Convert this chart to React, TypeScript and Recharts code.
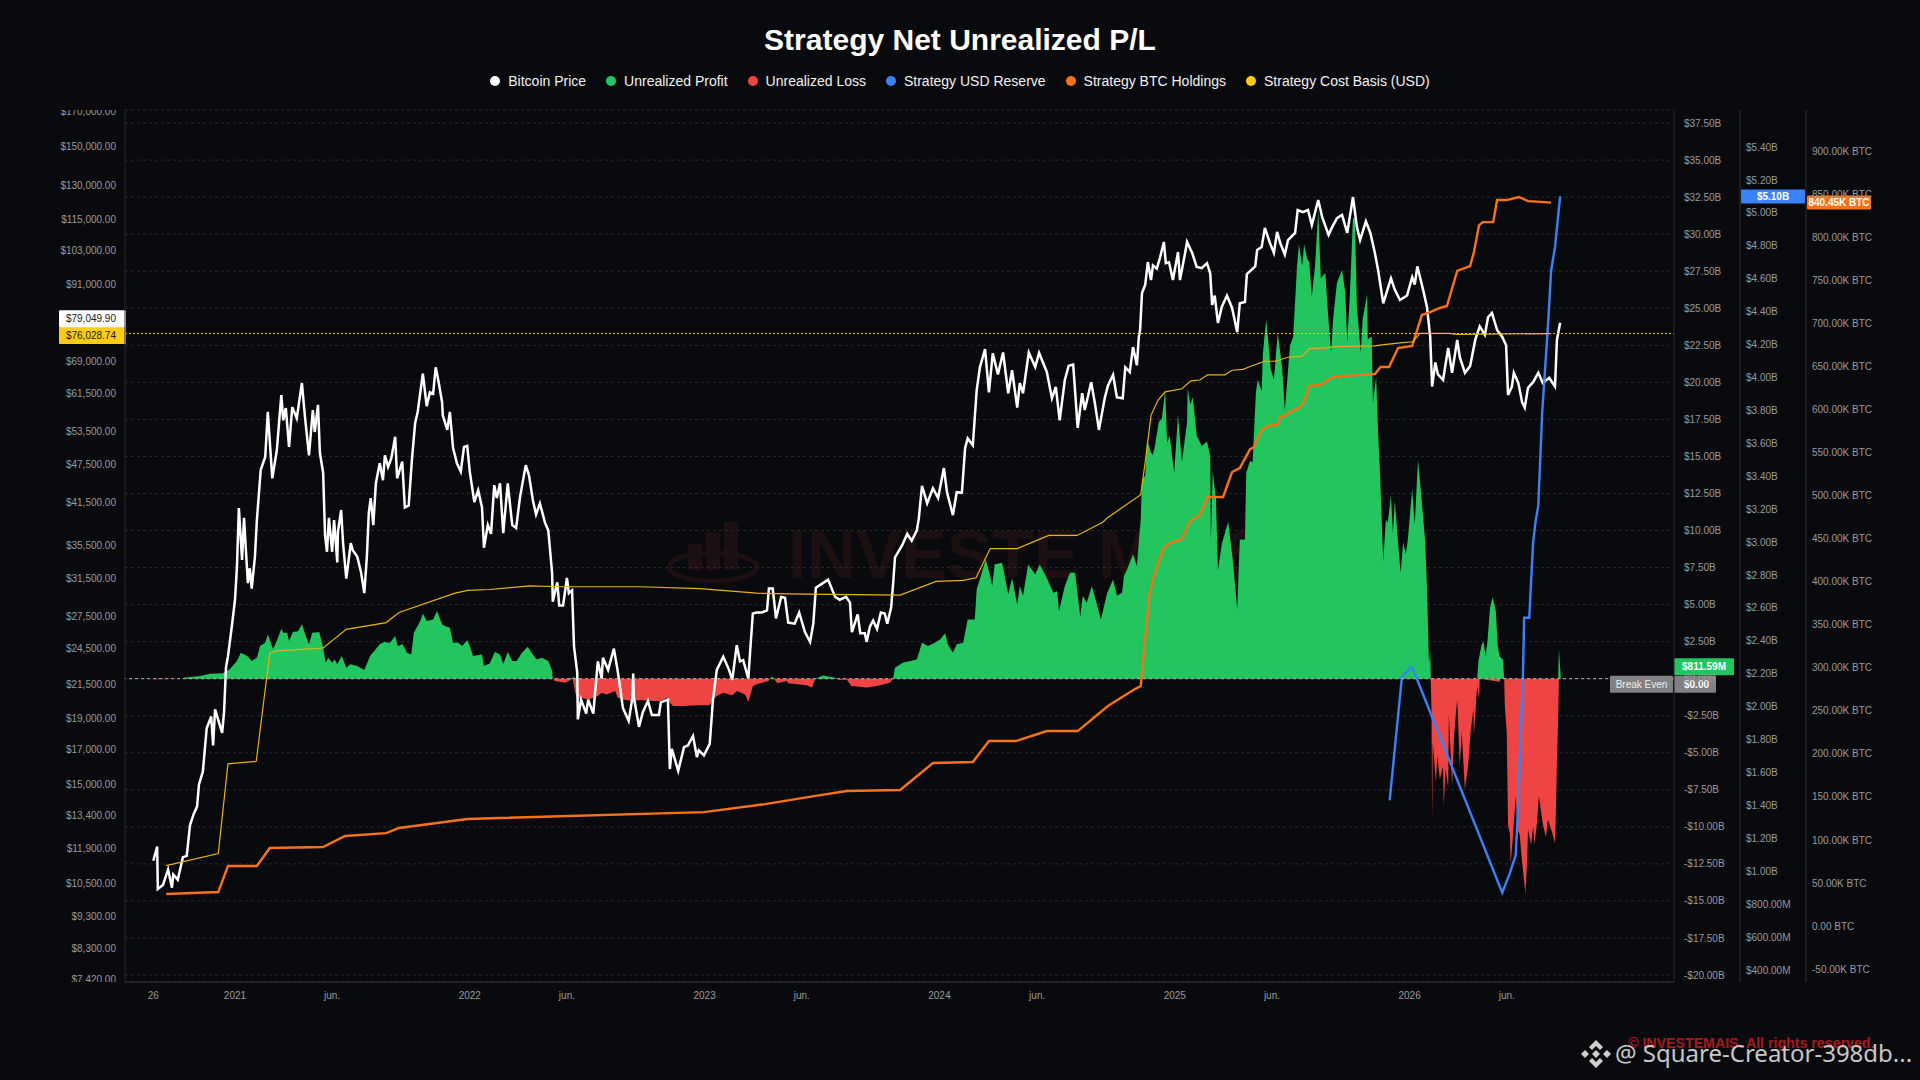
import React from "react";
import {
  ComposedChart, Line, Area, XAxis, YAxis, CartesianGrid, ReferenceLine, Legend,
} from "recharts";

const FONT = '"Liberation Sans", Arial, sans-serif';
const BG = "#090a0d";
const TICK = "#999a9c";

// Days are counted from 2021-01-01.
const xTickDays = [-127, 0, 151, 365, 516, 730, 881, 1095, 1247, 1461, 1612, 1826, 1977];
const xTickLabels = ["26", "2021", "jun.", "2022", "jun.", "2023", "jun.", "2024", "jun.", "2025", "jun.", "2026", "jun."];

const priceTicks = [7420, 8300, 9300, 10500, 11900, 13400, 15000, 17000, 19000, 21500, 24500, 27500, 31500, 35500, 41500, 47500, 53500, 61500, 69000, 91000, 103000, 115000, 130000, 150000, 170000];
const plTicks = [-20, -17.5, -15, -12.5, -10, -7.5, -5, -2.5, 0, 2.5, 5, 7.5, 10, 12.5, 15, 17.5, 20, 22.5, 25, 27.5, 30, 32.5, 35, 37.5];
const reserveTicks = [0.4, 0.6, 0.8, 1, 1.2, 1.4, 1.6, 1.8, 2, 2.2, 2.4, 2.6, 2.8, 3, 3.2, 3.4, 3.6, 3.8, 4, 4.2, 4.4, 4.6, 4.8, 5, 5.2, 5.4];
const btcTicks = [-50, 0, 50, 100, 150, 200, 250, 300, 350, 400, 450, 500, 550, 600, 650, 700, 750, 800, 850, 900];

const priceDays = [-127,-121,-120,-112,-104,-98,-96,-89,-81,-75,-70,-64,-59,-56,-50,-44,-37,-34,-31,-20,-17,-14,-11,-5,0,3,6,11,14,20,23,26,31,34,40,47,51,58,65,72,75,79,84,89,96,104,109,115,121,124,129,132,137,140,143,146,151,154,159,160,165,168,173,180,183,190,196,201,205,208,211,215,219,225,230,233,238,243,249,252,260,264,270,275,280,284,292,298,303,308,312,316,322,323,330,334,339,345,351,356,361,365,372,378,384,387,393,398,403,407,412,417,424,431,437,443,452,457,463,468,474,482,487,493,494,501,504,510,516,519,524,527,532,533,538,546,549,557,564,570,572,580,589,594,597,603,612,618,619,620,628,634,642,648,659,662,673,676,679,689,698,704,712,718,721,729,738,743,749,759,768,773,780,785,790,798,801,805,811,819,827,830,836,841,849,855,860,870,877,886,894,899,903,914,922,933,940,950,956,959,968,972,979,982,987,992,998,1004,1010,1014,1020,1023,1026,1037,1045,1052,1060,1063,1068,1076,1085,1093,1102,1107,1116,1122,1130,1135,1139,1147,1153,1158,1166,1172,1178,1186,1194,1202,1208,1216,1220,1225,1234,1244,1250,1262,1270,1276,1282,1290,1296,1303,1310,1317,1321,1331,1337,1343,1352,1357,1365,1371,1380,1384,1391,1396,1402,1405,1407,1410,1415,1419,1424,1427,1433,1438,1444,1447,1452,1458,1466,1469,1477,1480,1488,1495,1503,1511,1516,1519,1523,1528,1534,1542,1550,1558,1562,1570,1573,1586,1589,1596,1601,1609,1615,1620,1625,1632,1637,1648,1652,1660,1668,1674,1684,1690,1700,1705,1713,1721,1729,1738,1744,1749,1758,1765,1772,1777,1785,1797,1803,1811,1822,1830,1834,1838,1847,1853,1858,1861,1866,1870,1878,1886,1892,1900,1904,1912,1920,1928,1935,1943,1948,1954,1962,1970,1976,1979,1985,1988,1995,2001,2005,2010,2018,2026,2033,2043,2052,2055,2060];
const priceValues = [11350,11950,10250,10400,11000,10300,10800,10600,11500,11550,12900,13450,13800,14950,15650,18300,19100,17200,19600,18000,19400,22800,23700,26400,29100,32700,40500,33600,39100,30900,32600,30300,34000,38800,46500,48700,57300,45100,49900,60900,55600,58100,50500,58300,56000,63600,56000,49000,57700,53300,58800,49400,46000,36700,34600,39100,34600,38800,33300,37200,40200,35700,31400,35700,34800,34000,32100,29800,34000,39800,42000,38100,44300,47600,44800,49000,47000,48500,52400,45100,47900,40600,40900,48200,55000,57300,65800,58500,61500,61200,67300,64300,59300,56600,53700,57300,50300,47600,46200,50500,50700,46200,41400,43200,40600,35100,38100,36900,44000,42000,44300,37000,44300,38100,37700,42100,47300,45600,41700,39600,41200,38400,37400,32000,28900,31000,28500,28500,31500,29800,30100,24600,22400,18900,20300,19300,20300,19300,23300,21900,23600,22600,24400,22800,21800,19700,18800,20500,22300,20500,18400,19400,20200,19200,19200,20100,20300,15800,17000,15700,17100,17200,17800,16500,16900,16600,17300,20300,22600,23700,22600,21800,24700,23300,23400,21900,24300,27700,27800,27800,28000,30300,30300,27200,29400,29300,26800,26700,27800,25900,25000,26700,30400,30900,31300,29400,29100,29400,28800,25900,27600,25800,25800,25000,26400,27000,26200,27800,27700,26700,28300,30800,33900,35400,36900,36000,37400,39000,43900,41200,43500,42000,46800,42800,39500,42900,42800,50300,52100,50800,62000,67300,71900,61500,70800,65600,71000,61300,66600,58200,63600,61300,71000,67400,70900,66200,60200,62700,55600,64300,67700,68000,54100,61300,57700,63800,58900,53700,60200,63000,65500,60400,60200,67300,66200,72400,67800,75000,77000,88000,90700,98400,92200,97200,96100,100000,105800,98000,98300,92200,102000,92200,101700,105800,101700,96700,96300,98000,94500,84300,87200,79000,83700,87200,83400,76400,84800,85200,94200,96900,102800,103900,111300,105300,101700,109700,105300,101100,106500,109300,118700,117800,118700,112500,123100,115800,108500,111300,115300,116600,109300,124400,111700,106500,114000,109300,101700,95600,84800,92800,89000,85800,87200,93200,90700,96900,89000,83700,75100,62800,68500,65600,64300,72200,66000,74300,69800,66000,67600,74300,78000,75700,80700,81900,77000,75100,72900,60900,62800,66000,63600,59300,58200,62500,63800,66000,63600,64800,62800,74300,79049.9];

const profitDays = [-81,-54,-39,-19,-8,3,9,19,26,34,39,47,51,59,65,72,75,81,84,90,98,104,109,115,120,131,137,141,145,151,155,159,166,173,179,190,201,210,221,225,232,241,249,253,261,267,274,278,288,292,298,308,314,322,326,334,339,347,353,361,365,370,384,387,396,404,412,417,424,431,438,446,455,463,469,477,487,493,494,520,526,532,832,834,838,902,914,933,936,1023,1026,1038,1060,1068,1077,1088,1096,1104,1108,1116,1122,1132,1135,1139,1150,1153,1161,1167,1174,1177,1181,1192,1194,1202,1208,1216,1220,1225,1233,1244,1251,1262,1272,1278,1281,1290,1298,1306,1314,1318,1324,1332,1340,1346,1356,1365,1371,1379,1382,1388,1396,1402,1405,1408,1410,1415,1418,1424,1427,1430,1436,1441,1446,1449,1453,1460,1466,1472,1480,1481,1485,1489,1495,1503,1511,1516,1517,1520,1525,1528,1534,1544,1551,1558,1562,1570,1572,1578,1582,1587,1590,1596,1598,1603,1606,1610,1615,1621,1628,1632,1640,1645,1651,1654,1659,1662,1667,1670,1674,1679,1684,1688,1695,1699,1704,1707,1713,1721,1726,1729,1733,1738,1741,1744,1750,1753,1760,1761,1767,1769,1774,1777,1780,1785,1789,1792,1797,1800,1803,1808,1812,1816,1820,1823,1830,1834,1839,1845,1850,1853,1856,1858,1859,1931,1933,1938,1941,1944,1947,1951,1955,1960,1963,1966,1971,1973,2057,2058,2059,2060,2061];
const profitValues = [0.07,0.18,0.34,0.36,0.63,1.2,1.75,1.53,1.2,1.42,2.2,2.43,3,2,2.54,3.37,3.1,3.1,2.54,3.15,3.2,3.67,3,2.32,3.1,3.15,2.1,1.08,1.42,1.08,1.3,0.97,1.53,0.74,0.97,0.85,0.58,1.53,2.1,2.32,2.47,2.43,2.88,2.2,2.32,1.75,1.64,3.1,3.9,4.4,3.9,4,4.57,3.67,3.55,3.44,2.43,2.43,2.2,2.59,2.2,1.53,1.64,0.85,1.03,1.8,1.64,0.97,1.8,1.2,1.2,1.75,2.16,1.64,1.3,1.42,1.2,0.52,0,0,0.1,0,0,0.15,0,0,0.22,0.07,0,0,0.74,1.08,1.3,2.43,2.2,2.43,2.65,3.06,2.32,1.75,2.32,2.43,3.1,4,4,6.03,7.15,8.05,6.93,6.25,7.7,7.83,7.5,5.7,6.8,5,6.25,5.6,7.7,7.05,7.7,6.8,5.8,5.9,4.55,6.25,7.15,7.15,4.2,5.6,5.1,6.25,5,4,5.8,6.7,5.6,5.8,6.93,7.5,8.4,7.6,9.2,10.75,13.45,13.7,16.15,15.25,15.1,15.7,17.3,17.6,19.5,15.9,16.4,13.9,17.8,14.6,17.3,19.6,18.5,19,16.4,15.7,16,15,9.3,14,12.1,7.3,9.1,10.6,8.05,4.7,9.4,9.4,13.9,14.7,14.6,19.3,20.2,19.4,22,24.25,22.9,20.9,20.2,23.35,20.9,18.1,22.45,23.1,27.85,29.3,27.85,29.3,28.3,28.1,25.8,27.85,31.6,27,27.4,24.7,22,24.25,26.7,27.6,26.05,22.7,25.8,31.1,31,25.15,22,24.25,25.95,22.9,23.1,18.6,20.4,16.6,13.9,7.9,10.75,10.5,12.4,9.85,12,9.2,7.15,9.2,8.4,9.3,12.8,10.4,14.8,11.9,9.4,6.15,1.1,1.87,0,0,1.2,2.3,2.5,1.5,2.5,4.8,5.5,4.6,2.2,1.5,1.3,0,0,2,1.4,0.81,0];

const lossDays = [-127,-82,494,497,513,525,529,532,539,549,557,564,570,578,591,595,603,617,630,648,661,672,676,681,696,718,738,743,749,759,773,780,793,798,805,811,829,832,838,843,858,860,874,889,897,902,936,940,951,958,982,998,1018,1023,1858,1859,1860,1861,1862,1867,1869,1873,1878,1879,1882,1886,1887,1892,1895,1898,1900,1904,1907,1912,1917,1921,1925,1926,1931,1934,1935,1966,1967,1973,1974,1977,1979,1982,1983,1986,1991,1994,1997,2001,2004,2006,2009,2010,2015,2018,2020,2024,2027,2033,2038,2041,2047,2052,2053,2055,2057,2058];
const lossValues = [-0.03,0,0,-0.16,-0.27,0,-0.95,-1.4,-1.28,-1.4,-1.28,-1.17,-0.95,-1.06,-0.83,-1.28,-1.4,-1.5,-1.44,-1.5,-1.5,-1.28,-1.62,-1.84,-1.84,-1.8,-1.8,-1.4,-1.17,-0.95,-1.12,-0.83,-1.06,-1.57,-0.5,-0.38,-0.16,0,0,-0.31,-0.16,-0.31,-0.38,-0.45,-0.6,0,0,-0.09,-0.05,-0.5,-0.6,-0.5,-0.27,0,0,-0.27,-2.1,-9.5,-4.3,-7,-5.2,-6.8,-5.9,-8.6,-6.1,-7.35,-2.4,-7.25,-4,-2.3,-1.4,-5.9,-3.6,-7.5,-5.8,-3.5,-2.1,-3.75,-0.5,-1.4,0,-0.2,0,0,-1.85,-3.65,-9.9,-10.5,-12.5,-11,-7.9,-10.2,-10.5,-12.4,-13.65,-14.55,-12,-10.2,-11.2,-9.95,-11.2,-9.7,-7.9,-9.8,-10.7,-9.5,-10.3,-11.1,-9.7,-5.7,-2.5,0];

const reserveDays = [1795,1814,1828,1831,1970,1982,1991,1994,2002,2004,2012,2018,2022,2026,2032,2041,2046,2052,2060];
const reserveValues = [1.43,2.18,2.24,2.23,0.87,0.99,1.1,1.34,2.16,2.54,2.54,3,3.13,3.22,3.78,4.31,4.65,4.79,5.1];

const holdingsDays = [-107,-26,-11,34,54,137,171,235,255,361,412,729,824,900,951,1034,1085,1147,1172,1214,1262,1310,1357,1399,1408,1422,1427,1435,1444,1453,1472,1485,1500,1512,1536,1550,1562,1578,1584,1596,1606,1620,1625,1632,1640,1654,1662,1670,1687,1707,1744,1772,1781,1794,1808,1830,1845,1858,1873,1884,1900,1920,1926,1934,1940,1956,1962,1977,1996,2010,2036,2046];
const holdingsValues = [37.2,39.5,69.7,69.7,90.6,91.8,104.6,108,113.9,124.3,125.5,132.4,141.7,151,156.8,158,189.4,190.5,214.9,214.9,226.5,226.5,255.6,275.3,278.8,386.8,402,421.7,439,445,449.6,470.5,477.5,498.4,498.4,527.4,532,554,556.5,576,581,582,591.3,592.5,597,601.8,608.7,627.3,628.5,637.8,640,641.3,649.4,649.4,671.5,673.8,709.8,713.3,718,720.3,761,766.7,783,814.3,817.8,817.8,843.4,843.4,846.9,842.2,841,840.45];

const costDays = [-107,-26,-11,33,54,65,137,173,235,255,342,362,396,458,505,630,723,811,889,1034,1090,1132,1152,1174,1216,1265,1309,1349,1356,1408,1416,1424,1435,1446,1472,1486,1500,1512,1539,1550,1567,1578,1601,1617,1637,1659,1670,1698,1707,1772,1783,1811,1831,1842,1888,1899,2044];
const costValues = [11150,11650,16100,16250,24000,24200,24450,26150,26800,27800,29800,30100,30200,30600,30500,30500,30300,29800,29700,29600,31100,31200,31500,35000,35000,36700,36700,38500,39100,42500,48700,56600,59800,61600,62300,64100,64300,65500,65500,66600,66800,67500,68800,68800,69800,70000,72000,72200,72500,72700,73000,73500,73800,76100,76100,75800,76028.74];

const legendNames = ["Bitcoin Price", "Unrealized Profit", "Unrealized Loss", "Strategy USD Reserve", "Strategy BTC Holdings", "Strategy Cost Basis (USD)"];
const legendColors = ["#ffffff", "#22c55e", "#ef4444", "#3b82f6", "#f97316", "#facc15"];

function buildRows() {
  const rows = new Map<number, Record<string, number>>();
  const put = (days: number[], values: number[], key: string) => {
    days.forEach((d, i) => {
      const row = rows.get(d) ?? { day: d };
      row[key] = values[i];
      rows.set(d, row);
    });
  };
  put(priceDays, priceValues, "price");
  put(profitDays, profitValues, "profit");
  put(lossDays, lossValues, "loss");
  put(reserveDays, reserveValues, "reserve");
  put(holdingsDays, holdingsValues, "holdings");
  put(costDays, costValues, "cost");
  return Array.from(rows.values()).sort((a, b) => a.day - b.day);
}
const rows = buildRows();

const fmtPrice = (v: number) => "$" + v.toLocaleString("en-US", { minimumFractionDigits: 2, maximumFractionDigits: 2 });
const fmtPl = (v: number) => (v < 0 ? "-$" : "$") + Math.abs(v).toFixed(2) + "B";
const fmtReserve = (v: number) => (v < 1 ? "$" + (v * 1000).toFixed(2) + "M" : "$" + v.toFixed(2) + "B");
const fmtBtc = (v: number) => (v === 0 ? "0.00 BTC" : v.toFixed(2) + "K BTC");

const tickStyle = { fill: TICK, fontSize: 10, fontFamily: FONT };

function PriceTick(props: any) {
  const { x, y, payload } = props;
  return (
    <text x={x} y={y} dy={4.5} textAnchor="end" fill={TICK} fontSize={10} fontFamily={FONT} clipPath="url(#axisClip)">
      {fmtPrice(payload.value)}
    </text>
  );
}

function tag(opts: { x: number; w: number; dy: number; h: number; fill: string; text: string; color: string; tx?: number; anchor?: string; weight?: number }) {
  return (props: any) => {
    const y = props.viewBox?.y ?? 0;
    const top = y + opts.dy;
    return (
      <g>
        <rect x={opts.x} y={top} width={opts.w} height={opts.h} fill={opts.fill} rx={1} />
        <text
          x={opts.tx ?? opts.x + opts.w / 2}
          y={top + opts.h / 2 + 3.5}
          textAnchor={(opts.anchor ?? "middle") as any}
          fill={opts.color}
          fontSize={10}
          fontWeight={opts.weight ?? 400}
          fontFamily={FONT}
        >
          {opts.text}
        </text>
      </g>
    );
  };
}

function breakEvenTag(props: any) {
  const y = props.viewBox?.y ?? 0;
  return (
    <g>
      <rect x={1610} y={y - 3} width={63} height={17} fill="#808183" rx={1} />
      <text x={1641.5} y={y + 9} textAnchor="middle" fill="#f0f0f0" fontSize={10} fontFamily={FONT}>Break Even</text>
      <rect x={1674} y={y - 3} width={42} height={17} fill="#808183" rx={1} />
      <text x={1684} y={y + 9} fill="#ffffff" fontSize={10} fontWeight={700} fontFamily={FONT}>$0.00</text>
    </g>
  );
}

function LegendRow() {
  return (
    <div style={{ display: "flex", justifyContent: "center", gap: 20, fontFamily: FONT, fontSize: 14, color: "#f2f2f2", lineHeight: "16px" }}>
      {legendNames.map((name, i) => (
        <span key={name} style={{ display: "inline-flex", alignItems: "center", gap: 8 }}>
          <span style={{ width: 10, height: 10, borderRadius: 5, background: legendColors[i], display: "inline-block" }} />
          {name}
        </span>
      ))}
    </div>
  );
}

export default function App() {
  return (
    <div style={{ position: "absolute", left: 0, top: 0, width: 1920, height: 1080, background: BG, overflow: "hidden", fontFamily: FONT }}>
      <svg width={1920} height={1080} style={{ position: "absolute", left: 0, top: 0 }}>
        <defs>
          <clipPath id="axisClip"><rect x={0} y={110} width={125} height={872} /></clipPath>
        </defs>
        <g fill="#1d1012" stroke="none">
          <rect x={688} y={544} width={14} height={26} />
          <rect x={706} y={532} width={14} height={38} />
          <rect x={724} y={522} width={14} height={48} />
        </g>
        <ellipse cx={713} cy={567} rx={44} ry={14} fill="none" stroke="#1d1012" strokeWidth={5} />
        <text x={788} y={578} fontFamily={FONT} fontWeight={700} fontSize={68} fill="#1d1012">INVESTE MAIS</text>
      </svg>

      <div style={{ position: "absolute", left: 0, top: 22, width: 1920, textAlign: "center", color: "#fff", fontSize: 30, fontWeight: 700, lineHeight: "36px" }}>
        Strategy Net Unrealized P/L
      </div>

      <div style={{ position: "absolute", left: 0, top: 0 }}>
        <ComposedChart width={1920} height={1080} data={rows} margin={{ top: 110, right: 0, bottom: 68, left: 0 }}>
          <Legend layout="horizontal" align="center" verticalAlign="middle" content={() => <LegendRow />} wrapperStyle={{ position: "absolute", top: 73, left: 0, width: 1920, height: 16 }} />
          <CartesianGrid yAxisId="y2pl" vertical={false} stroke="#2a2b2e" strokeDasharray="3 3" />
          <XAxis
            dataKey="day" type="number" domain={[-171, 2237]} allowDataOverflow ticks={xTickDays}
            tickFormatter={(d: number) => xTickLabels[xTickDays.indexOf(d)]}
            tick={tickStyle} tickLine={false} tickSize={0} tickMargin={10} height={30}
            axisLine={{ stroke: "#34353a" }} interval={0}
          />
          <YAxis
            yAxisId="y1price" orientation="left" width={125} scale="log" type="number"
            domain={[7329, 170300]} allowDataOverflow ticks={priceTicks} interval={0}
            tick={<PriceTick />} tickLine={false} tickSize={0} tickMargin={9}
            axisLine={{ stroke: "#2a2b2e" }}
          />
          <YAxis
            yAxisId="y2pl" orientation="right" width={66} type="number" domain={[-20.47, 38.38]}
            allowDataOverflow ticks={plTicks} interval={0} tickFormatter={fmtPl} tick={tickStyle}
            tickLine={false} tickSize={0} tickMargin={10} axisLine={{ stroke: "#2a2b2e" }}
          />
          <YAxis
            yAxisId="y3reserve" orientation="right" width={66} type="number" domain={[0.327, 5.625]}
            allowDataOverflow ticks={reserveTicks} interval={0} tickFormatter={fmtReserve} tick={tickStyle}
            tickLine={false} tickSize={0} tickMargin={6} axisLine={{ stroke: "#1d1e21", strokeWidth: 2 }}
          />
          <YAxis
            yAxisId="y4btc" orientation="right" width={114} type="number" domain={[-65, 948]}
            allowDataOverflow ticks={btcTicks} interval={0} tickFormatter={fmtBtc} tick={tickStyle}
            tickLine={false} tickSize={0} tickMargin={6} axisLine={{ stroke: "#1d1e21", strokeWidth: 2 }}
          />

          <Line yAxisId="y1price" dataKey="price" name="Bitcoin Price" stroke="#ffffff" strokeWidth={2.5} dot={false} activeDot={false} connectNulls isAnimationActive={false} />
          <Area yAxisId="y2pl" dataKey="profit" name="Unrealized Profit" type="linear" baseValue={0} stroke="none" fill="#22c55e" fillOpacity={1} dot={false} activeDot={false} connectNulls isAnimationActive={false} />
          <Area yAxisId="y2pl" dataKey="loss" name="Unrealized Loss" type="linear" baseValue={0} stroke="none" fill="#ef4444" fillOpacity={1} dot={false} activeDot={false} connectNulls isAnimationActive={false} />
          <Line yAxisId="y3reserve" dataKey="reserve" name="Strategy USD Reserve" stroke="#3b82f6" strokeWidth={2.4} dot={false} activeDot={false} connectNulls isAnimationActive={false} />
          <Line yAxisId="y4btc" dataKey="holdings" name="Strategy BTC Holdings" stroke="#f97316" strokeWidth={2.4} dot={false} activeDot={false} connectNulls isAnimationActive={false} />
          <Line yAxisId="y1price" dataKey="cost" name="Strategy Cost Basis (USD)" stroke="#eab308" strokeWidth={1.2} dot={false} activeDot={false} connectNulls isAnimationActive={false} />

          <ReferenceLine yAxisId="y2pl" y={0} stroke="#b5b5b5" strokeDasharray="3 3" ifOverflow="visible" label={breakEvenTag} />
          <ReferenceLine yAxisId="y1price" y={76028.74} stroke="#facc15" strokeDasharray="2 2" ifOverflow="visible"
            label={tag({ x: 59, w: 67, dy: -6.5, h: 17, fill: "#facc15", text: "$76,028.74", color: "#1a1a1a", tx: 116, anchor: "end" })} />
          <ReferenceLine yAxisId="y1price" y={79049.9} stroke="none" ifOverflow="visible"
            label={tag({ x: 59, w: 67, dy: -12.5, h: 17, fill: "#ffffff", text: "$79,049.90", color: "#1a1a1a", tx: 116, anchor: "end" })} />
          <ReferenceLine yAxisId="y2pl" y={0.81159} stroke="none" ifOverflow="visible"
            label={tag({ x: 1674, w: 60, dy: -8.5, h: 17, fill: "#22c55e", text: "$811.59M", color: "#ffffff", weight: 700 })} />
          <ReferenceLine yAxisId="y3reserve" y={5.1} stroke="none" ifOverflow="visible"
            label={tag({ x: 1741, w: 64, dy: -7, h: 14, fill: "#3b82f6", text: "$5.10B", color: "#ffffff", weight: 700 })} />
          <ReferenceLine yAxisId="y4btc" y={840.45} stroke="none" ifOverflow="visible"
            label={tag({ x: 1807, w: 64, dy: -7, h: 14, fill: "#f97316", text: "840.45K BTC", color: "#ffffff", weight: 700 })} />
        </ComposedChart>
      </div>

      <div style={{ position: "absolute", left: 1628, top: 1035, color: "#a81a1a", fontSize: 14.2, fontWeight: 700, whiteSpace: "nowrap", lineHeight: "16px" }}>
        © INVESTEMAIS. All rights reserved.
      </div>
      <svg width={30} height={30} viewBox="0 0 30 30" style={{ position: "absolute", left: 1581, top: 1039 }}>
        <g fill="#cfcfcf">
          <polygon points="15,1 22,8 19,11 15,7 11,11 8,8" />
          <polygon points="15,29 22,22 19,19 15,23 11,19 8,22" />
          <polygon points="4,11 8,15 4,19 0,15" />
          <polygon points="26,11 30,15 26,19 22,15" />
          <polygon points="15,11 19,15 15,19 11,15" />
        </g>
      </svg>
      <div style={{ position: "absolute", left: 1615, top: 1036, color: "#c8c8c8", fontSize: 24, fontFamily: '"Noto Sans", sans-serif', whiteSpace: "nowrap", lineHeight: "34px" }}>
        @ Square-Creator-398db...
      </div>
    </div>
  );
}
